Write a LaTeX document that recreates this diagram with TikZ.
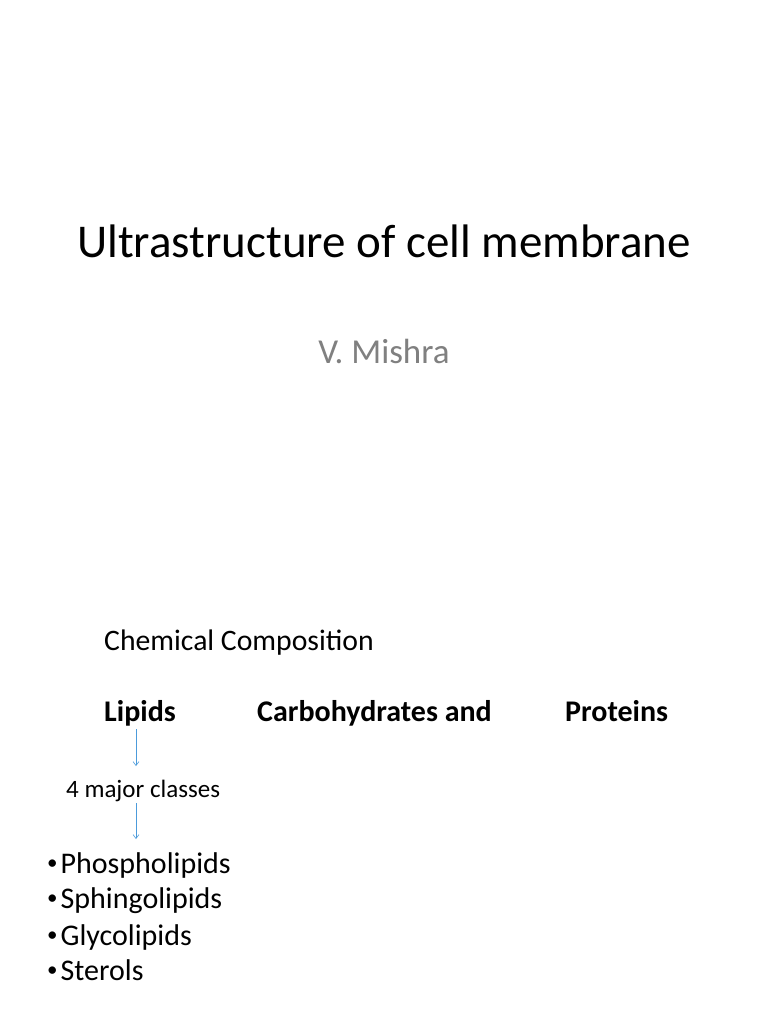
\documentclass[tikz,border=0pt]{standalone}
\usepackage{fontspec}
\setmainfont{Carlito}
\usetikzlibrary{arrows.meta}
\newcommand{\smbul}{\raisebox{0.25ex}{\scalebox{0.7}{•}}\kern3pt}
\begin{document}
\begin{tikzpicture}[x=1pt,y=-1pt,
  lbl/.style={inner sep=0pt,anchor=base west},
  arr/.style={draw=blue!45!cyan!80!black!70,line width=0.6pt,-{Straight Barb[length=4pt,width=6pt]}}]
\useasboundingbox[fill=white] (0,0) rectangle (768,1024);
\node[inner sep=0pt,anchor=base] (title) at (384,258) {\fontsize{47}{54}\selectfont Ultrastructure of cell membrane};
\node[inner sep=0pt,text=gray,anchor=base] (auth) at (384,363) {\fontsize{35}{40}\selectfont V. Mishra};
\node[lbl] (chem) at (104,650) {\fontsize{29.7}{34}\selectfont Chemical Composition};
\node[lbl] (lip) at (104,721) {\fontsize{30}{34}\selectfont\bfseries Lipids};
\node[lbl] (carb) at (257,721) {\fontsize{30}{34}\selectfont\bfseries Carbohydrates and};
\node[lbl] (prot) at (565,721) {\fontsize{30}{34}\selectfont\bfseries Proteins};
\node[lbl] (maj) at (66,797) {\fontsize{25}{29}\selectfont 4 major classes};
\coordinate (a1) at (136,729); \coordinate (a2) at (136,766);
\coordinate (b1) at (136,803); \coordinate (b2) at (136,839);
\draw[arr] (a1) -- (a2);
\draw[arr] (b1) -- (b2);
\node[lbl] (p1) at (47,873) {\fontsize{30}{34}\selectfont\smbul Phospholipids};
\node[lbl] (p2) at (47,908) {\fontsize{30}{34}\selectfont\smbul Sphingolipids};
\node[lbl] (p3) at (47,945) {\fontsize{30}{34}\selectfont\smbul Glycolipids};
\node[lbl] (p4) at (47,980) {\fontsize{30}{34}\selectfont\smbul Sterols};
\end{tikzpicture}
\end{document}
